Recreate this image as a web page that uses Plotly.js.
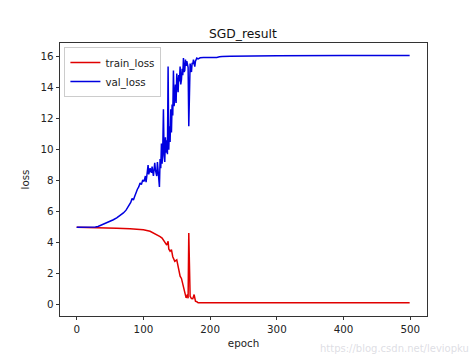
<!DOCTYPE html>
<html>
<head>
<meta charset="utf-8">
<script src="https://cdn.plot.ly/plotly-3.0.1.min.js"></script>
<style>html,body{margin:0;padding:0;background:#fff;}#chart{width:474px;height:355px;}</style>
</head>
<body>
<div id="chart"></div>
<script>
const trainEpochs = [0,20,40,60,80,100,110,115,120,125,128,130,132,135,137,138,140,142,144,147,150,152,155,157,160,162,164,166,167,168,169,170,172,174,176,178,180,182,200,300,400,499];
const trainLoss   = [5.0,4.99,4.97,4.94,4.9,4.83,4.74,4.62,4.55,4.4,4.3,4.15,4.0,3.85,4.1,3.6,3.45,3.55,3.1,2.8,2.9,2.5,1.85,1.7,1.2,0.85,0.45,0.66,0.42,4.63,0.6,0.55,0.4,0.39,0.66,0.23,0.2,0.13,0.13,0.13,0.13,0.13];

const valEpochs = [0,10,20,28,32,36,40,45,50,55,60,65,70,74,78,81,83,85,87,89,91,93,95,97,99,101,103,104,106,107,108,110,112,113,115,117,118,120,121,123,124,125,126,127,128,129,130,131,132,133,134,135,136,137,138,139,140,141,142,143,144,145,146,147,148,149,150,151,152,153,154,155,156,157,158,159,160,161,162,163,164,165,166,167,168,169,170,171,172,173,174,175,176,177,178,180,182,185,190,200,210,214,218,230,250,260,300,400,499];
const valLoss   = [5.0,5.0,5.0,5.02,5.05,5.12,5.2,5.28,5.38,5.48,5.6,5.75,5.92,6.1,6.35,6.6,6.85,6.75,7.0,7.25,7.45,7.6,7.85,7.75,8.05,7.95,8.3,7.9,8.6,9.0,8.4,8.8,8.5,8.9,8.3,9.15,8.7,8.3,9.2,8.4,7.6,9.4,8.8,10.4,9.1,10.0,12.6,9.6,9.2,10.8,9.8,10.6,9.7,15.35,10.0,11.5,10.5,12.6,11.1,12.9,12.2,15.1,12.8,13.4,14.2,13.0,14.9,14.3,13.7,14.8,14.4,15.35,14.2,14.5,15.2,14.8,15.9,15.0,15.1,15.8,15.4,15.7,15.55,15.3,11.5,14.8,15.55,15.2,15.0,15.6,15.5,15.8,15.6,15.35,15.7,15.9,15.85,15.92,15.93,15.92,15.93,15.98,16.0,16.01,16.02,16.04,16.05,16.06,16.07];

const xTicks = [0,100,200,300,400,500];
const yTicks = [0,2,4,6,8,10,12,14,16];

const font = "DejaVu Sans, sans-serif";

const data = [
  {x: trainEpochs, y: trainLoss, type: 'scatter', mode: 'lines', name: 'train_loss', line: {color: '#e00000', width: 1.5}},
  {x: valEpochs, y: valLoss, type: 'scatter', mode: 'lines', name: 'val_loss', line: {color: '#0000e0', width: 1.5}}
];

const axisCommon = {
  showgrid: false, zeroline: false, showline: true, mirror: true,
  linecolor: '#000', linewidth: 0.8,
  ticks: 'outside', ticklen: 3.5, tickwidth: 0.8, tickcolor: '#000',
  tickfont: {family: font, size: 10.3, color: '#222'}
};

const layout = {
  width: 474, height: 355,
  margin: {l: 59.5, r: 47.3, t: 42.7, b: 39.3, pad: 0},
  paper_bgcolor: '#fff', plot_bgcolor: '#fff',
  font: {family: font, color: '#222'},
  title: {text: 'SGD_result', font: {family: font, size: 12.3, color: '#111'}, x: 0.5124, xanchor: 'center', y: 0.905, yanchor: 'middle'},
  xaxis: Object.assign({}, axisCommon, {range: [-25, 525], tickvals: xTicks, ticktext: xTicks.map(String),
    title: {text: 'epoch', font: {family: font, size: 10.3, color: '#222'}, standoff: 6}}),
  yaxis: Object.assign({}, axisCommon, {range: [-0.72, 16.87], tickvals: yTicks, ticktext: yTicks.map(String),
    title: {text: 'loss', font: {family: font, size: 10.3, color: '#222'}, standoff: 8}}),
  showlegend: true,
  legend: {x: 0.012, y: 0.985, xanchor: 'left', yanchor: 'top', bgcolor: 'rgba(255,255,255,0.85)',
    bordercolor: '#ccc', borderwidth: 1, font: {family: font, size: 10.3, color: '#222'},
    itemwidth: 30, tracegroupgap: 0},
  annotations: [{text: 'https://blog.csdn.net/leviopku', xref: 'paper', yref: 'paper', x: 1.12, y: -0.09,
    xanchor: 'right', yanchor: 'top', showarrow: false, font: {family: font, size: 10, color: 'rgba(200,200,210,0.6)'}}]
};

Plotly.newPlot('chart', data, layout, {displayModeBar: false, staticPlot: true});
</script>
</body>
</html>
